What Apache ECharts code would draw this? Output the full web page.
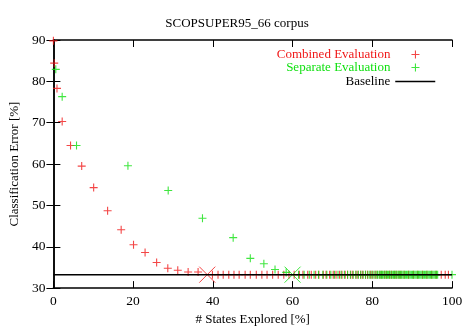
<!DOCTYPE html>
<html>
<head>
<meta charset="utf-8">
<script src="https://cdn.jsdelivr.net/npm/echarts@6/dist/echarts.min.js"></script>
<style>html,body{margin:0;padding:0;background:#fff}#c{width:474px;height:331px}</style>
</head>
<body>
<div id="c"></div>
<script>
var titleText = 'SCOPSUPER95_66 corpus';
var xName = '# States Explored [%]';
var yName = 'Classification Error [%]';
var xTicks = [0, 20, 40, 60, 80, 100];
var yTicks = [30, 40, 50, 60, 70, 80, 90];
var baselineValue = 33.25;

// Combined Evaluation (red)
var combinedX = [0, 0.2, 0.9, 2.2, 4.3, 7.1, 10.1, 13.6, 17.0, 20.1, 23.0, 25.9, 28.7, 31.2, 33.8, 36.3,
  39.9, 41.3, 42.6, 44.0, 45.3, 46.6, 48.1, 49.4, 50.9, 52.3, 53.6, 55.0, 56.4, 57.8, 59.1, 60.4,
  61.7, 62.6, 63.8, 64.7, 65.8, 66.6, 67.7, 68.4, 69.3, 70.2, 70.9, 71.8, 72.4, 73.2, 73.8, 74.6,
  75.1, 75.9, 76.4, 77.1, 77.6, 78.3, 78.8, 79.5, 80.0, 80.7, 81.2, 81.9, 82.4, 83.1, 83.6, 84.3,
  84.8, 85.5, 86.0, 86.7, 87.2, 88.0, 89.1, 90.3, 91.4, 92.6, 93.7, 94.9, 96.0, 97.3, 98.3, 99.1];
var combinedY = [89.8, 84.4, 78.3, 70.3, 64.5, 59.5, 54.3, 48.7, 44.1, 40.5, 38.6, 36.2, 34.8, 34.3, 33.9, 33.9,
  33.25, 33.25, 33.25, 33.25, 33.25, 33.25, 33.25, 33.25, 33.25, 33.25, 33.25, 33.25, 33.25, 33.25, 33.25, 33.25,
  33.25, 33.25, 33.25, 33.25, 33.25, 33.25, 33.25, 33.25, 33.25, 33.25, 33.25, 33.25, 33.25, 33.25, 33.25, 33.25,
  33.25, 33.25, 33.25, 33.25, 33.25, 33.25, 33.25, 33.25, 33.25, 33.25, 33.25, 33.25, 33.25, 33.25, 33.25, 33.25,
  33.25, 33.25, 33.25, 33.25, 33.25, 33.25, 33.25, 33.25, 33.25, 33.25, 33.25, 33.25, 33.25, 33.25, 33.25, 33.25];

// Separate Evaluation (green)
var separateX = [0.6, 2.2, 5.8, 18.7, 28.8, 37.4, 45.1, 49.4, 52.8, 55.6, 58.4,
  61.5, 62.9, 64.2, 65.4, 66.5, 67.6, 68.6, 69.6, 70.5, 71.4, 72.2, 73.0, 73.8, 74.5, 75.2, 75.9,
  76.5, 77.1, 77.7, 78.3, 78.9, 79.4, 79.9, 80.4, 80.9, 81.3, 81.7, 82.0, 82.3, 82.6, 82.9, 83.2,
  83.5, 83.8, 84.1, 84.4, 84.7, 85.0, 85.3, 85.6, 85.9, 86.2, 86.5, 86.8, 87.1, 87.4, 87.7, 88.0,
  88.3, 88.6, 88.9, 89.2, 89.5, 89.8, 90.1, 90.4, 90.7, 91.0, 91.3, 91.6, 91.9, 92.2, 92.5, 92.8,
  93.1, 93.4, 93.7, 94.0, 94.3, 94.6, 94.9, 95.2, 95.5, 95.8, 96.1, 96.4, 100];
var separateY = [82.9, 76.3, 64.5, 59.6, 53.6, 46.9, 42.2, 37.2, 35.9, 34.5, 33.8,
  33.25, 33.25, 33.25, 33.25, 33.25, 33.25, 33.25, 33.25, 33.25, 33.25, 33.25, 33.25, 33.25, 33.25, 33.25, 33.25,
  33.25, 33.25, 33.25, 33.25, 33.25, 33.25, 33.25, 33.25, 33.25, 33.25, 33.25, 33.25, 33.25, 33.25, 33.25, 33.25,
  33.25, 33.25, 33.25, 33.25, 33.25, 33.25, 33.25, 33.25, 33.25, 33.25, 33.25, 33.25, 33.25, 33.25, 33.25, 33.25,
  33.25, 33.25, 33.25, 33.25, 33.25, 33.25, 33.25, 33.25, 33.25, 33.25, 33.25, 33.25, 33.25, 33.25, 33.25, 33.25,
  33.25, 33.25, 33.25, 33.25, 33.25, 33.25, 33.25, 33.25, 33.25, 33.25, 33.25, 33.25, 33.25];

// crossing points (big X markers)
var combinedCross = [38.6, 33.25];
var separateCross = [60.0, 33.25];

var RED = '#f01818';
var GREEN = '#10e010';
var FONT = '"Liberation Serif", "DejaVu Serif", serif';
var PLUS = 'path://M5,0L5,10M0,5L10,5';
var CROSS = 'path://M0,0L10,10M0,10L10,0';
var LEGEND_PLUS = 'path://M0,0M40,8M20,0L20,8M16,4L24,4';
var LEGEND_LINE = 'path://M0,0M40,8M0,4L40,4';

function zip(xs, ys) { var r = []; for (var i = 0; i < xs.length; i++) r.push([xs[i], ys[i]]); return r; }

var chart = echarts.init(document.getElementById('c'), null, {renderer: 'canvas'});

var tickStyle = {show: true, inside: true, length: 7, lineStyle: {color: '#000', width: 1}};
var lineStyle = {show: true, lineStyle: {color: '#000', width: 1.5}};

var legendBase = {
  orient: 'horizontal', right: 38, itemWidth: 40, itemHeight: 8, align: 'right',
  selectedMode: false, padding: 0, textStyle: {fontFamily: FONT, fontSize: 13}
};
function mkLegend(name, top, color, icon, bw) {
  var l = Object.assign({}, legendBase);
  var d = {name: name, textStyle: {color: color, fontFamily: FONT, fontSize: 13},
    icon: icon, itemStyle: {color: 'transparent', borderColor: color, borderWidth: bw}};
  l.data = [d];
  l.top = top;
  return l;
}

chart.setOption({
  animation: false,
  backgroundColor: '#fff',
  title: {
    text: titleText, left: 'center', top: 12,
    textStyle: {fontFamily: FONT, fontSize: 13, fontWeight: 'normal', color: '#000'}
  },
  legend: [
    mkLegend('Combined Evaluation', 48, RED, LEGEND_PLUS, 1.1),
    mkLegend('Separate Evaluation', 61, GREEN, LEGEND_PLUS, 1.1),
    mkLegend('Baseline', 75, '#000', LEGEND_LINE, 1.5)
  ],
  grid: {left: 51, right: 22, top: 40, bottom: 39, containLabel: false},
  xAxis: [{
    type: 'value', position: 'bottom', min: xTicks[0], max: xTicks[xTicks.length - 1], interval: 20,
    name: xName, nameLocation: 'middle', nameGap: 24,
    nameTextStyle: {fontFamily: FONT, fontSize: 13, color: '#000'},
    axisLine: lineStyle, axisTick: tickStyle, splitLine: {show: false},
    axisLabel: {fontFamily: FONT, fontSize: 13.5, color: '#000', margin: 6}
  }, {
    type: 'value', position: 'top', min: xTicks[0], max: xTicks[xTicks.length - 1], interval: 20,
    axisLine: lineStyle, axisTick: tickStyle, splitLine: {show: false}, axisLabel: {show: false}
  }],
  yAxis: [{
    type: 'value', position: 'left', min: yTicks[0], max: yTicks[yTicks.length - 1], interval: 10,
    name: yName, nameLocation: 'middle', nameGap: 30,
    nameTextStyle: {fontFamily: FONT, fontSize: 13, color: '#000'},
    axisLine: lineStyle, axisTick: tickStyle, splitLine: {show: false},
    axisLabel: {fontFamily: FONT, fontSize: 13.5, color: '#000', margin: 8}
  }, {
    type: 'value', position: 'right', min: yTicks[0], max: yTicks[yTicks.length - 1], interval: 10,
    axisLine: lineStyle, axisTick: tickStyle, splitLine: {show: false}, axisLabel: {show: false}
  }],
  series: [{
    name: 'Combined Evaluation', type: 'scatter', data: zip(combinedX, combinedY),
    symbol: PLUS, symbolSize: 8,
    itemStyle: {color: 'transparent', borderColor: RED, borderWidth: 1.1},
    emphasis: {disabled: true}
  }, {
    name: 'Separate Evaluation', type: 'scatter', data: zip(separateX, separateY),
    symbol: PLUS, symbolSize: 8,
    itemStyle: {color: 'transparent', borderColor: GREEN, borderWidth: 1.1},
    emphasis: {disabled: true}
  }, {
    name: 'crossRed', type: 'scatter', data: [combinedCross],
    symbol: CROSS, symbolSize: 16,
    itemStyle: {color: 'transparent', borderColor: RED, borderWidth: 1},
    emphasis: {disabled: true}
  }, {
    name: 'crossGreen', type: 'scatter', data: [separateCross],
    symbol: CROSS, symbolSize: 16,
    itemStyle: {color: 'transparent', borderColor: GREEN, borderWidth: 1},
    emphasis: {disabled: true}
  }, {
    name: 'Baseline', type: 'line', data: [[xTicks[0], baselineValue], [xTicks[xTicks.length - 1], baselineValue]],
    symbol: 'none', lineStyle: {color: '#000', width: 1.5}, itemStyle: {color: '#000'},
    emphasis: {disabled: true}
  }]
});
</script>
</body>
</html>
